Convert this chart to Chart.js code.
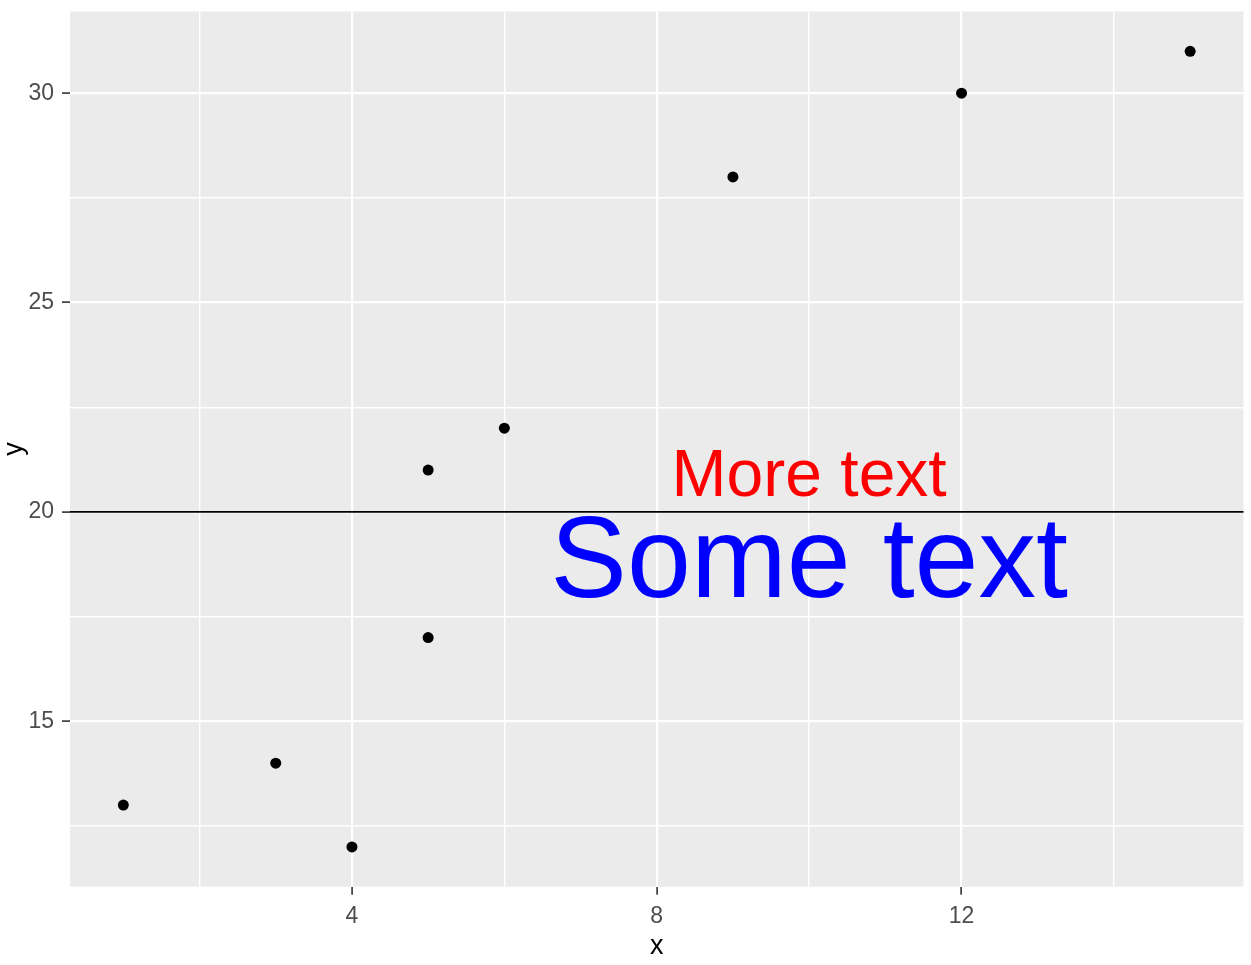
<!DOCTYPE html>
<html>
<head>
<meta charset="utf-8">
<style>
  html, body { margin: 0; padding: 0; background: #fff; }
  canvas { display: block; }
</style>
<script src="https://cdn.jsdelivr.net/npm/chart.js@4"></script>
</head>
<body>
<canvas id="plot" width="1251" height="965"></canvas>
<script>
// points
const xValues = [1, 3, 4, 5, 5, 6, 9, 12, 15]
const yValues = [13, 14, 12, 17, 21, 22, 28, 30, 31]

// reference line and text labels
const hLineY = 20
const labelText = ["More text", "Some text"]
const labelX = [10, 10]
const labelY = [20.94, 18.94]

// axes
const xRange = [0.3, 15.7]
const yRange = [11.05, 31.95]
const xMajor = [4, 8, 12]
const xMinor = [2, 6, 10, 14]
const yMajor = [15, 20, 25, 30]
const yMinor = [12.5, 17.5, 22.5, 27.5]

const FONT = "'Liberation Sans', Arial, sans-serif"

function setTicks(major, minor) {
	return scale => {
		scale.ticks = major.concat(minor).sort((a, b) => a - b).map(v => ({ value: v }))
	}
}

function Axis(range, major, minor, title, size) {
	this.type = "linear",
	this.min = range[0],
	this.max = range[1],
	this.afterBuildTicks = setTicks(major, minor),
	this.border = { display: false },
	this.grid = {
		color: "#ffffff",
		lineWidth: ctx => major.includes(ctx.tick.value) ? 2.2 : 1.4,
		tickLength: 8,
		tickWidth: 1.6,
		tickColor: ctx => major.includes(ctx.tick.value) ? "#333333" : "rgba(0,0,0,0)"
	},
	this.ticks = {
		autoSkip: false,
		maxRotation: 0,
		padding: 8,
		color: "#4d4d4d",
		font: { family: FONT, size: 23 },
		callback: v => major.includes(v) ? String(v) : ""
	},
	this.title = {
		display: true,
		text: title,
		color: "#000000",
		font: { family: FONT, size: 27 },
		padding: { top: -2, bottom: 2 }
	},
	this.afterFit = scale => {
		if (scale.isHorizontal()) scale.height = size
		else scale.width = size
		scale.paddingTop = scale.paddingBottom = 0
		scale.paddingLeft = scale.paddingRight = 0
	}
}

const panel = {
	id: "panel",
	beforeDraw(chart) {
		const { ctx, chartArea: a } = chart
		ctx.save()
		ctx.fillStyle = "#ebebeb"
		ctx.fillRect(a.left, a.top, a.right - a.left, a.bottom - a.top)
		ctx.restore()
	},
	afterDatasetsDraw(chart) {
		const { ctx, chartArea: a, scales: { x, y } } = chart
		ctx.save()
		// horizontal line
		const py = y.getPixelForValue(hLineY)
		ctx.strokeStyle = "#000000"
		ctx.lineWidth = 1.6
		ctx.beginPath()
		ctx.moveTo(a.left, py)
		ctx.lineTo(a.right, py)
		ctx.stroke()
		// labels, centred on cap height
		const colors = ["#ff0000", "#0000ff"]
		const sizes = [66, 115]
		ctx.textAlign = "center"
		ctx.textBaseline = "alphabetic"
		labelText.forEach((t, i) => {
			ctx.fillStyle = colors[i]
			ctx.font = `${sizes[i]}px ${FONT}`
			ctx.fillText(t, x.getPixelForValue(labelX[i]), y.getPixelForValue(labelY[i]) + sizes[i] * 0.358)
		})
		ctx.restore()
	}
}

const plot = new Chart(document.getElementById("plot"), {
	type: "scatter",
	data: {
		datasets: [{
			data: xValues.map((v, i) => ({ x: v, y: yValues[i] })),
			backgroundColor: "#000000",
			borderColor: "#000000",
			pointRadius: 5.5,
			pointHoverRadius: 5.5,
			borderWidth: 0
		}]
	},
	options: {
		responsive: false,
		devicePixelRatio: 1,
		animation: false,
		layout: { padding: { top: 11.5, right: 7.5, left: 0, bottom: 0 } },
		scales: {
			x: new Axis(xRange, xMajor, xMinor, "x", 78.3),
			y: new Axis(yRange, yMajor, yMinor, "y", 70)
		},
		plugins: {
			legend: { display: false },
			tooltip: { enabled: false }
		}
	},
	plugins: [panel]
})
</script>
</body>
</html>
